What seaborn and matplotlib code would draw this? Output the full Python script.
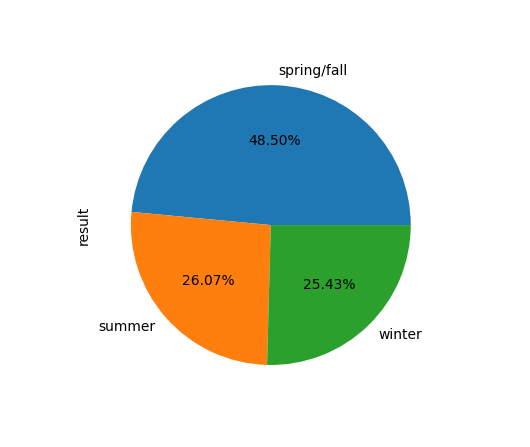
import matplotlib
matplotlib.use("Agg")
import matplotlib.pyplot as plt
import seaborn as sns

# 季节占比数据
seasons = ["spring/fall", "summer", "winter"]
shares = [48.50, 26.07, 25.43]

colors = sns.color_palette("tab10", 3)

fig = plt.figure(figsize=(5.3, 4.47), dpi=100)
ax = fig.add_axes([0.181, 0.105, 0.660, 0.783])

ax.pie(shares, labels=seasons, colors=colors, autopct="%.2f%%")
ax.set_ylabel("result")

plt.savefig("out.png", dpi=100)
plt.close()
